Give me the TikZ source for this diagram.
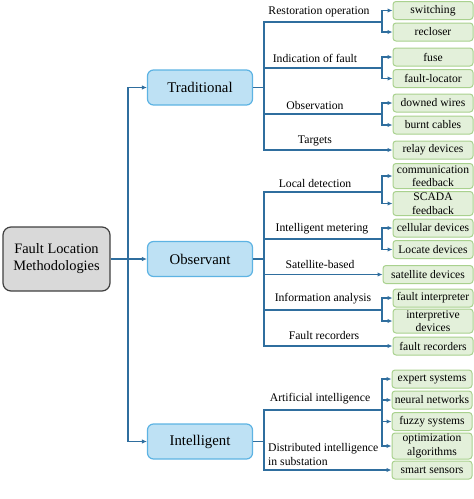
\documentclass[tikz,border=0pt]{standalone}
\usepackage{fontspec}
\setmainfont{Liberation Serif}
\usetikzlibrary{arrows.meta}

\definecolor{linkblue}{HTML}{2F6E9E}
\definecolor{catfill}{HTML}{BEE1F4}
\definecolor{catline}{HTML}{5DB3E3}
\definecolor{leaffill}{HTML}{E3F0DA}
\definecolor{leafline}{HTML}{A9D18E}

\tikzset{
  root/.style={draw=black!75, fill=black!15, rounded corners=8pt, line width=1.2pt,
    minimum width=107pt, minimum height=64pt, align=center, font=\fontsize{14.4}{17}\selectfont},
  cat/.style={draw=catline, fill=catfill, rounded corners=6pt, line width=1.2pt,
    minimum width=105pt, minimum height=35pt, font=\fontsize{14.8}{17}\selectfont},
  leaf/.style={draw=leafline, fill=leaffill, rounded corners=3pt, line width=1pt,
    minimum width=80pt, minimum height=18pt, inner sep=0.5pt, align=center,
    font=\fontsize{11.6}{13.5}\selectfont},
  lbl/.style={font=\fontsize{11.7}{14}\selectfont, inner sep=0pt},
  link/.style={draw=linkblue, line width=1.4pt},
  arr/.style={link, -{Latex[length=5pt,width=4.5pt]}}
}

\begin{document}
\begin{tikzpicture}[x=1pt, y=-1pt]
  \useasboundingbox (0,0) rectangle (474,499);

  % main boxes
  \node[root] (flm) at (56.5,259) {Fault Location\\Methodologies};
  \node[cat] (trad) at (200,87.5) {Traditional};
  \node[cat] (obsv) at (200,259) {Observant};
  \node[cat] (intl) at (200,441.5) {Intelligent};

  % leaves
  \node[leaf] (sw) at (433,10.5) {switching};
  \node[leaf] (rc) at (433,32) {recloser};
  \node[leaf] (fu) at (433,57) {fuse};
  \node[leaf] (fl) at (433,78.5) {fault-locator};
  \node[leaf] (dw) at (433,103) {downed wires};
  \node[leaf] (bc) at (433,125) {burnt cables};
  \node[leaf] (rd) at (433,150) {relay devices};
  \node[leaf, minimum height=25pt] (cf) at (433,176) {communication\\feedback};
  \node[leaf, minimum height=24pt] (sf) at (433,203.5) {SCADA\\feedback};
  \node[leaf] (cd) at (433,228) {cellular devices};
  \node[leaf] (lc) at (433,249.5) {Locate devices};
  \node[leaf, minimum width=90pt] (sd) at (428,274.5) {satellite devices};
  \node[leaf] (fi) at (433,298) {fault interpreter};
  \node[leaf, minimum height=24pt] (id) at (433,321) {interpretive\\devices};
  \node[leaf] (fr) at (433,346) {fault recorders};
  \node[leaf] (es) at (432,379) {expert systems};
  \node[leaf] (nn) at (432,400) {neural networks};
  \node[leaf] (fs) at (432,421.5) {fuzzy systems};
  \node[leaf, minimum height=26pt] (oa) at (432,446) {optimization\\algorithms};
  \node[leaf] (ss) at (432,470) {smart sensors};

  % branch labels
  \node[lbl] (lro) at (319,12) {Restoration operation};
  \node[lbl] (lif) at (315,58) {Indication of fault};
  \node[lbl] (lob) at (315,105) {Observation};
  \node[lbl] (lta) at (315,141) {Targets};
  \node[lbl] (lld) at (315,183) {Local detection};
  \node[lbl] (lim) at (322,229) {Intelligent metering};
  \node[lbl] (lsb) at (320,264) {Satellite-based};
  \node[lbl] (lia) at (323,299) {Information analysis};
  \node[lbl] (lfr) at (324,335) {Fault recorders};
  \node[lbl] (lai) at (320,399) {Artificial intelligence};
  \node[lbl, anchor=west, align=left] (ldi) at (268,454) {Distributed intelligence\\in substation};

  % fork points
  \coordinate (ro) at (382,22);
  \coordinate (if) at (382,68);
  \coordinate (ob) at (382,114);
  \coordinate (ld) at (382,192);
  \coordinate (im) at (382,239);
  \coordinate (ia) at (382,310);
  \coordinate (ai) at (382,410);

  % connectors
  \draw[arr] (flm.east) -- (obsv.west);
  \draw[arr] (flm.east) -- ++(17.4,0) |- (trad.west);
  \draw[arr] (flm.east) -- ++(17.4,0) |- (intl.west);

  \foreach \c/\f in {trad/ro, trad/if, trad/ob, obsv/ld, obsv/im, obsv/ia, intl/ai}
    \draw[link] (\c.east) -- ++(11,0) |- (\f);
  \foreach \c/\l in {trad/rd, obsv/sd, obsv/fr, intl/ss}
    \draw[arr] (\c.east) -- ++(11,0) |- (\l.west);
  \foreach \f/\l in {ro/sw, ro/rc, if/fu, if/fl, ob/dw, ob/bc, ld/cf, ld/sf,
                     im/cd, im/lc, ia/fi, ia/id, ai/es, ai/nn, ai/fs, ai/oa}
    \draw[arr] (\f) |- (\l.west);
\end{tikzpicture}
\end{document}
